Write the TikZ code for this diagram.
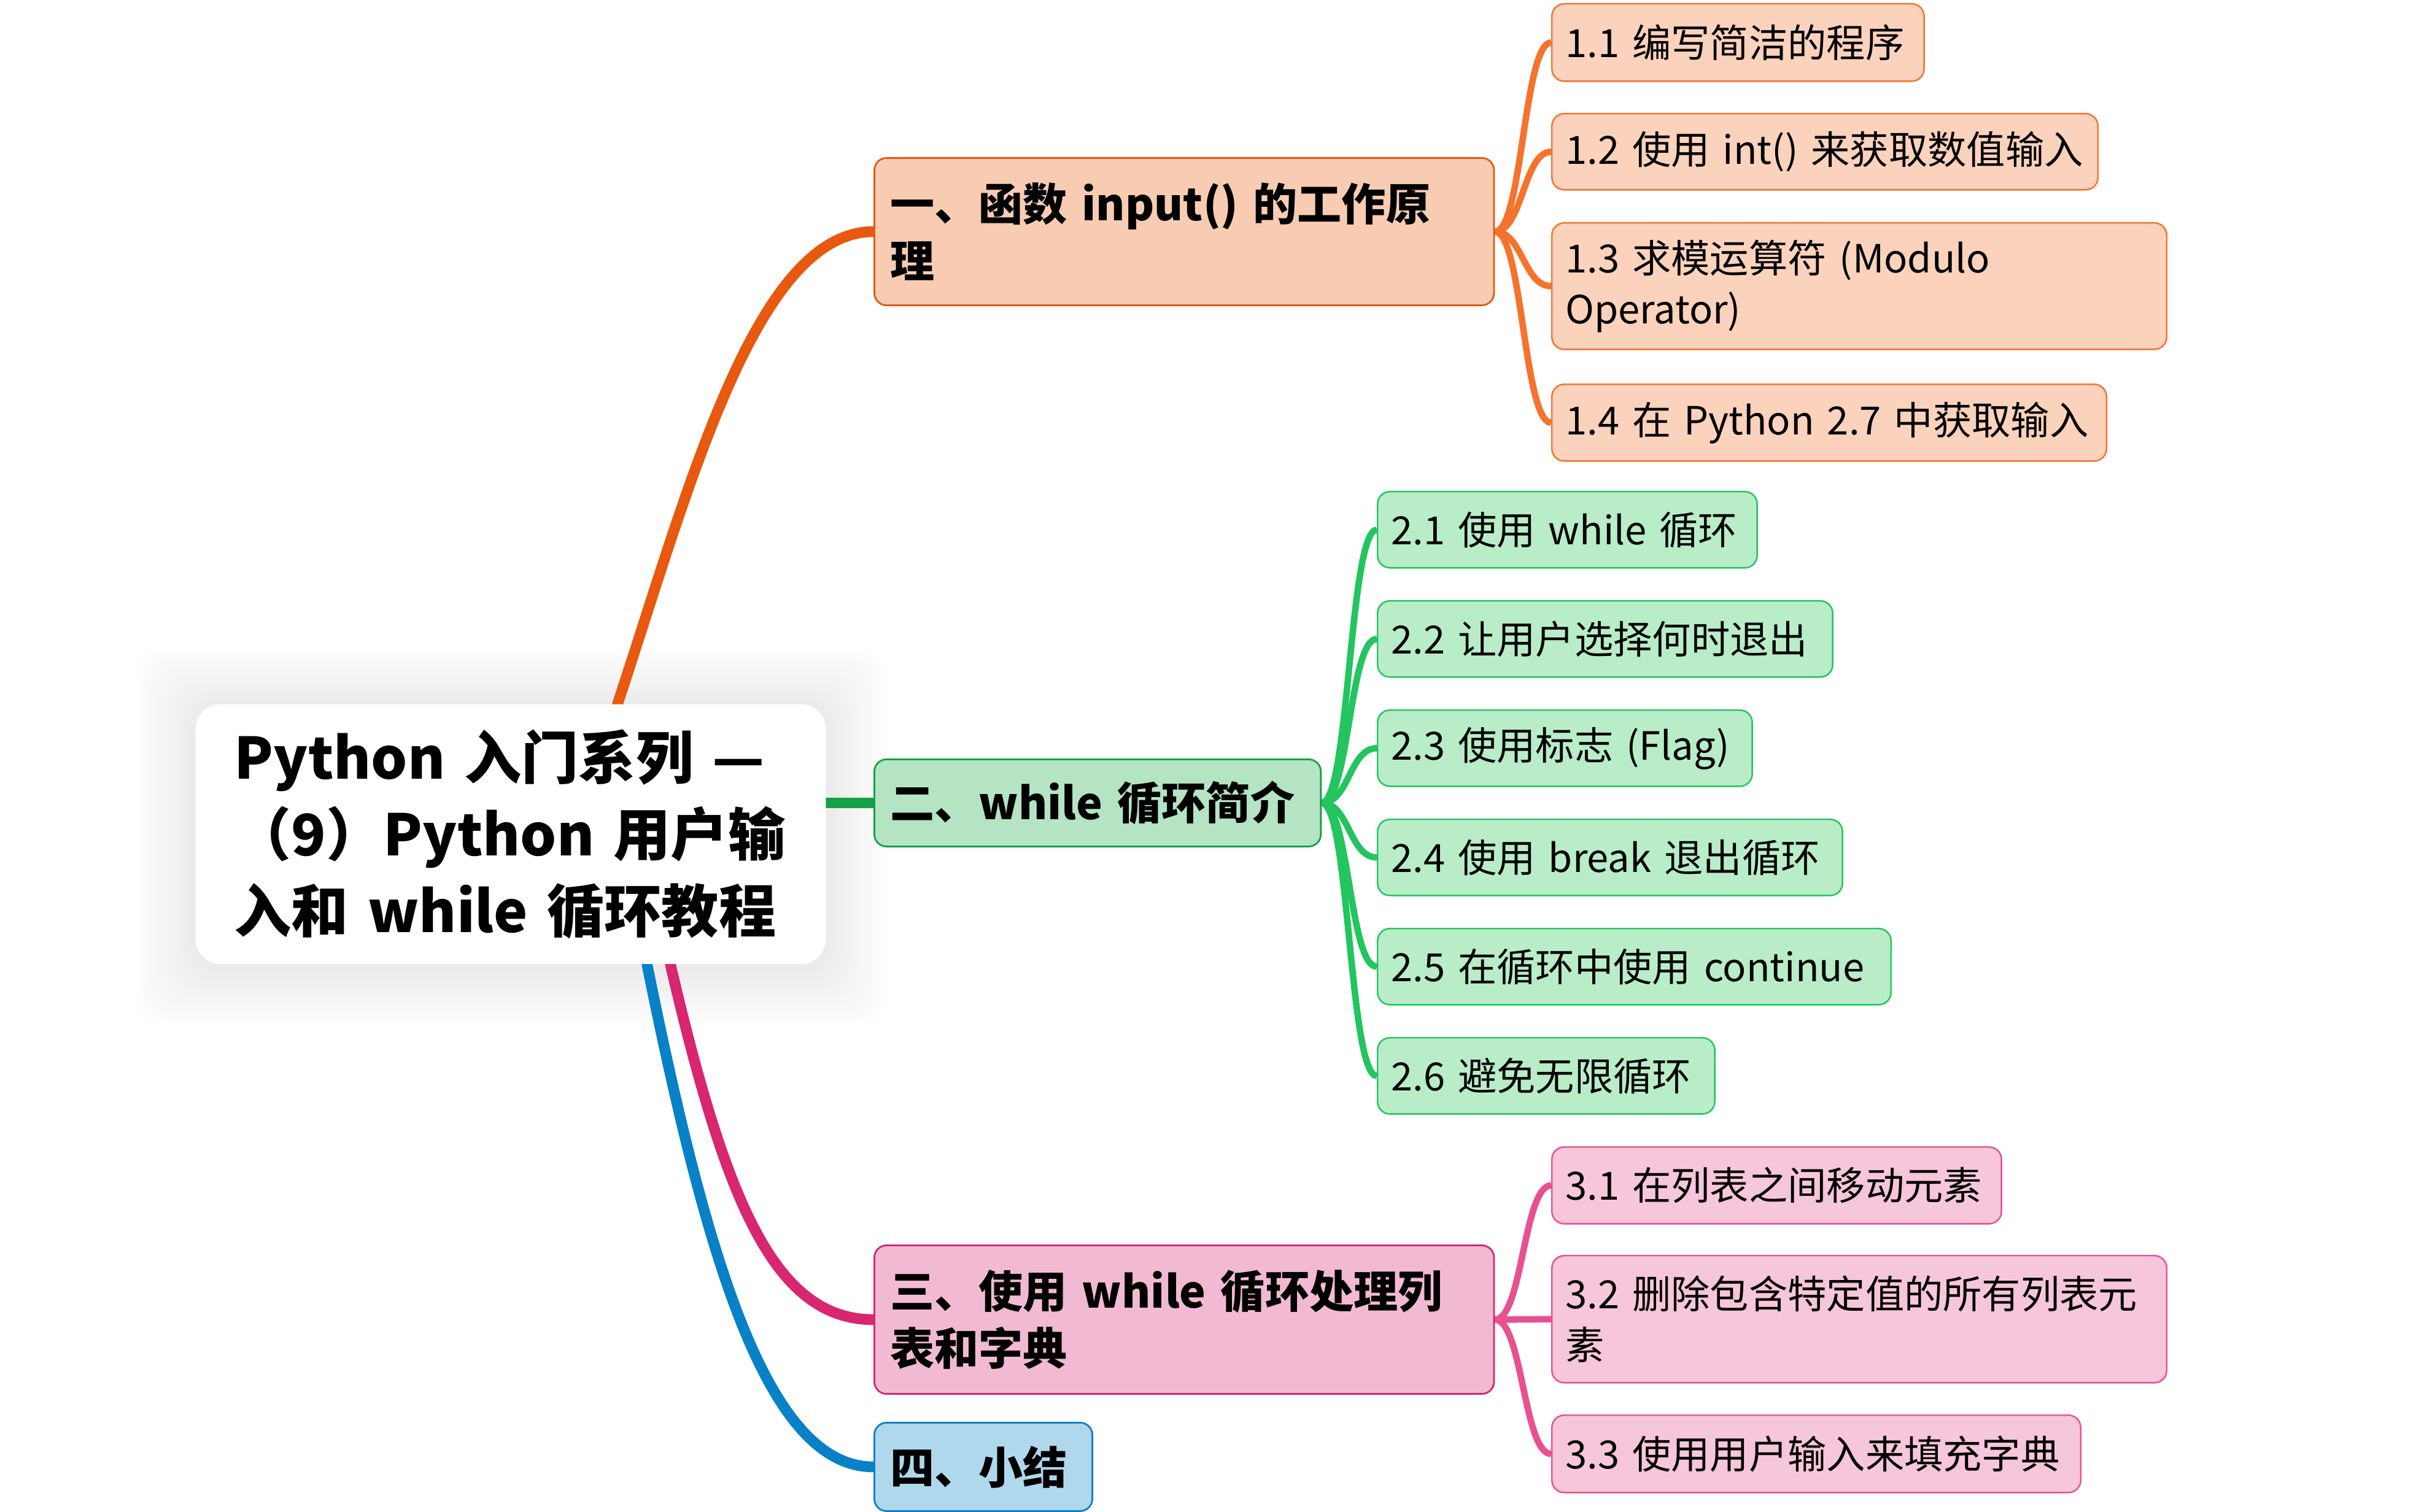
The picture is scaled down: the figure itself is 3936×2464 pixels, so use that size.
\documentclass[tikz,border=0pt]{standalone}
\usepackage{fontspec}
\setmainfont{Noto Sans CJK SC}
\usetikzlibrary{backgrounds}

\definecolor{orangeline}{RGB}{232,88,15}
\definecolor{orangesub}{RGB}{245,115,45}
\definecolor{orangefill}{RGB}{248,204,178}
\definecolor{orangesubfill}{RGB}{251,210,188}
\definecolor{greenline}{RGB}{22,160,70}
\definecolor{greensub}{RGB}{34,197,94}
\definecolor{greenfill}{RGB}{180,228,196}
\definecolor{greensubfill}{RGB}{184,237,200}
\definecolor{pinkline}{RGB}{216,38,112}
\definecolor{pinksub}{RGB}{232,80,145}
\definecolor{pinkfill}{RGB}{242,186,210}
\definecolor{pinksubfill}{RGB}{246,198,218}
\definecolor{blueline}{RGB}{8,129,199}
\definecolor{bluefill}{RGB}{176,216,236}

\begin{document}
\begin{tikzpicture}[x = 0.01cm, y = -0.01cm]
			% Fix the size of the page
			\useasboundingbox (0, 0) rectangle (3936, 2464);

			% Styles for the boxes and the branches
			\tikzset{rootbox/.style = {anchor = north west, fill = white, rounded corners = 0.4cm, align = left, inner xsep = 0.63cm, font = \fontsize{26.5}{35.5}\selectfont\bfseries}}
			\tikzset{topicbox/.style = {anchor = north west, rounded corners = 0.2cm, line width = 0.8pt, align = left, inner xsep = 0.26cm, font = \fontsize{20.5}{26.5}\selectfont\bfseries}}
			\tikzset{subbox/.style = {anchor = north west, rounded corners = 0.2cm, line width = 0.7pt, align = left, inner xsep = 0.22cm, font = \fontsize{18}{23.6}\selectfont}}
			\tikzset{mainlink/.style = {line width = 5pt, line cap = round}}
			\tikzset{sublink/.style = {line width = 3pt}}

			% The central topic
			\node[rootbox, text width = 9cm, minimum height = 4.23cm] (root) at (318, 1147) {Python~入门系列~—\\（9）Python~用户输\\入和~while~循环教程};

			% Branch one
			\node[topicbox, fill = orangefill, draw = orangeline, text width = 9.57cm, minimum height = 2.40cm] (intro) at (1423, 256) {一、函数~input()~的工作原\\理};
			\node[subbox, fill = orangesubfill, draw = orangesub, text width = 5.62cm, minimum height = 1.26cm] (concise) at (2527, 5) {1.1~编写简洁的程序};
			\node[subbox, fill = orangesubfill, draw = orangesub, text width = 8.45cm, minimum height = 1.24cm] (intinput) at (2527, 184) {1.2~使用~int()~来获取数值输入};
			\node[subbox, fill = orangesubfill, draw = orangesub, text width = 9.57cm, minimum height = 2.06cm] (modulo) at (2527, 362) {1.3~求模运算符~(Modulo\\Operator)};
			\node[subbox, fill = orangesubfill, draw = orangesub, text width = 8.59cm, minimum height = 1.25cm] (pytwo) at (2527, 625) {1.4~在~Python~2.7~中获取输入};

			% Branch two
			\node[topicbox, fill = greenfill, draw = greenline, text width = 6.75cm, minimum height = 1.42cm] (loop) at (1423, 1236) {二、while~循环简介};
			\node[subbox, fill = greensubfill, draw = greensub, text width = 5.74cm, minimum height = 1.24cm] (usewhile) at (2243, 800) {2.1~使用~while~循环};
			\node[subbox, fill = greensubfill, draw = greensub, text width = 6.97cm, minimum height = 1.24cm] (quit) at (2243, 978) {2.2~让用户选择何时退出};
			\node[subbox, fill = greensubfill, draw = greensub, text width = 5.66cm, minimum height = 1.24cm] (flag) at (2243, 1156) {2.3~使用标志~(Flag)};
			\node[subbox, fill = greensubfill, draw = greensub, text width = 7.13cm, minimum height = 1.24cm] (breakout) at (2243, 1334) {2.4~使用~break~退出循环};
			\node[subbox, fill = greensubfill, draw = greensub, text width = 7.92cm, minimum height = 1.24cm] (goon) at (2243, 1512) {2.5~在循环中使用~continue};
			\node[subbox, fill = greensubfill, draw = greensub, text width = 5.05cm, minimum height = 1.24cm] (infinite) at (2243, 1690) {2.6~避免无限循环};

			% Branch three
			\node[topicbox, fill = pinkfill, draw = pinkline, text width = 9.57cm, minimum height = 2.42cm] (lists) at (1423, 2028) {三、使用~while~循环处理列\\表和字典};
			\node[subbox, fill = pinksubfill, draw = pinksub, text width = 6.88cm, minimum height = 1.25cm] (move) at (2527, 1868) {3.1~在列表之间移动元素};
			\node[subbox, fill = pinksubfill, draw = pinksub, text width = 9.57cm, minimum height = 2.07cm] (remove) at (2527, 2045) {3.2~删除包含特定值的所有列表元\\素};
			\node[subbox, fill = pinksubfill, draw = pinksub, text width = 8.17cm, minimum height = 1.26cm] (dict) at (2527, 2305) {3.3~使用用户输入来填充字典};

			% Branch four
			\node[topicbox, fill = bluefill, draw = blueline, text width = 3.03cm, minimum height = 1.44cm] (summary) at (1423, 2317) {四、小结};

			% Draw the background, the soft shadow and the branches behind the boxes
			\begin{scope}[on background layer]
				\fill[white] (0, 0) rectangle (3936, 2464);
				\foreach \s in {5, 10, ..., 100}
					\fill[black, opacity = 0.005, rounded corners = 0.5cm] ([xshift = -\s*0.01cm, yshift = \s*0.01cm - 0.04cm]root.north west) rectangle ([xshift = \s*0.01cm, yshift = -\s*0.01cm - 0.04cm]root.south east);

				\draw[orangeline, mainlink] ([xshift = 1.74cm]root.north) .. controls +(115, -347) and +(-193, 0) .. (intro.west);
				\draw[greenline, mainlink] (root.center |- loop.west) -- (loop.west);
				\draw[pinkline, mainlink] ([xshift = 2.6cm]root.south) .. controls +(89, 381) and +(-163, 0) .. (lists.west);
				\draw[blueline, mainlink] ([xshift = 2.22cm]root.south) .. controls +(97, 481) and +(-173, 0) .. (summary.west);

				\draw[orangesub, sublink] (intro.east) .. controls +(45, 0) and +(-45, 0) .. (concise.west);
				\draw[orangesub, sublink] (intro.east) .. controls +(45, 0) and +(-45, 0) .. (intinput.west);
				\draw[orangesub, sublink] (intro.east) .. controls +(45, 0) and +(-45, 0) .. (modulo.west);
				\draw[orangesub, sublink] (intro.east) .. controls +(45, 0) and +(-45, 0) .. (pytwo.west);

				\draw[greensub, sublink] (loop.east) .. controls +(45, 0) and +(-45, 0) .. (usewhile.west);
				\draw[greensub, sublink] (loop.east) .. controls +(45, 0) and +(-45, 0) .. (quit.west);
				\draw[greensub, sublink] (loop.east) .. controls +(45, 0) and +(-45, 0) .. (flag.west);
				\draw[greensub, sublink] (loop.east) .. controls +(45, 0) and +(-45, 0) .. (breakout.west);
				\draw[greensub, sublink] (loop.east) .. controls +(45, 0) and +(-45, 0) .. (goon.west);
				\draw[greensub, sublink] (loop.east) .. controls +(45, 0) and +(-45, 0) .. (infinite.west);

				\draw[pinksub, sublink] (lists.east) .. controls +(45, 0) and +(-45, 0) .. (move.west);
				\draw[pinksub, sublink] (lists.east) .. controls +(45, 0) and +(-45, 0) .. (remove.west);
				\draw[pinksub, sublink] (lists.east) .. controls +(45, 0) and +(-45, 0) .. (dict.west);
			\end{scope}

		\end{tikzpicture}
\end{document}
